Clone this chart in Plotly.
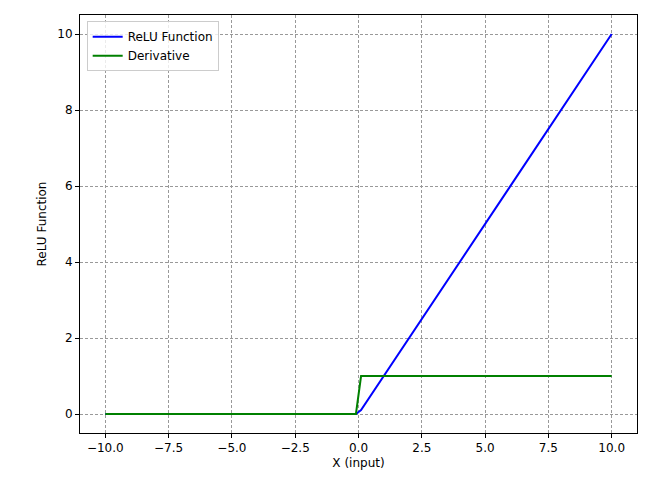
import plotly.graph_objects as go

x_vals = [-10.0, -0.101, 0.101, 10.0]
relu_vals = [0.0, 0.0, 0.101, 10.0]
deriv_vals = [0.0, 0.0, 1.0, 1.0]

x_ticks = [-10.0, -7.5, -5.0, -2.5, 0.0, 2.5, 5.0, 7.5, 10.0]
x_labels = ["\u221210.0", "\u22127.5", "\u22125.0", "\u22122.5", "0.0", "2.5", "5.0", "7.5", "10.0"]
y_ticks = [0, 2, 4, 6, 8, 10]

fig = go.Figure()
fig.add_trace(go.Scatter(x=x_vals, y=relu_vals, mode="lines", name="ReLU Function",
                         line=dict(color="blue", width=2)))
fig.add_trace(go.Scatter(x=x_vals, y=deriv_vals, mode="lines", name="Derivative",
                         line=dict(color="green", width=2)))

axis_common = dict(showline=True, linecolor="black", linewidth=1, mirror=True,
                   ticks="outside", ticklen=4, tickcolor="black", automargin=False,
                   showgrid=True, gridcolor="#999999", griddash="3px,2px", gridwidth=0.7,
                   zeroline=False, tickfont=dict(size=12, color="black"))

fig.update_layout(
    width=661, height=477,
    margin=dict(l=72, r=32, t=7, b=52),
    plot_bgcolor="white", paper_bgcolor="white",
    font=dict(family="DejaVu Sans", size=12, color="black"),
    xaxis=dict(range=[-11, 11], tickvals=x_ticks, ticktext=x_labels,
               title=dict(text="X (input)", standoff=4, font=dict(size=12)), **axis_common),
    yaxis=dict(range=[-0.5, 10.5], tickvals=y_ticks,
               title=dict(text="ReLU Function", standoff=8, font=dict(size=12)), **axis_common),
    legend=dict(x=0.012, y=0.985, xanchor="left", yanchor="top",
                bordercolor="#cccccc", borderwidth=1, bgcolor="rgba(255,255,255,0.8)",
                font=dict(size=12)),
)

fig.write_html("out.html")
